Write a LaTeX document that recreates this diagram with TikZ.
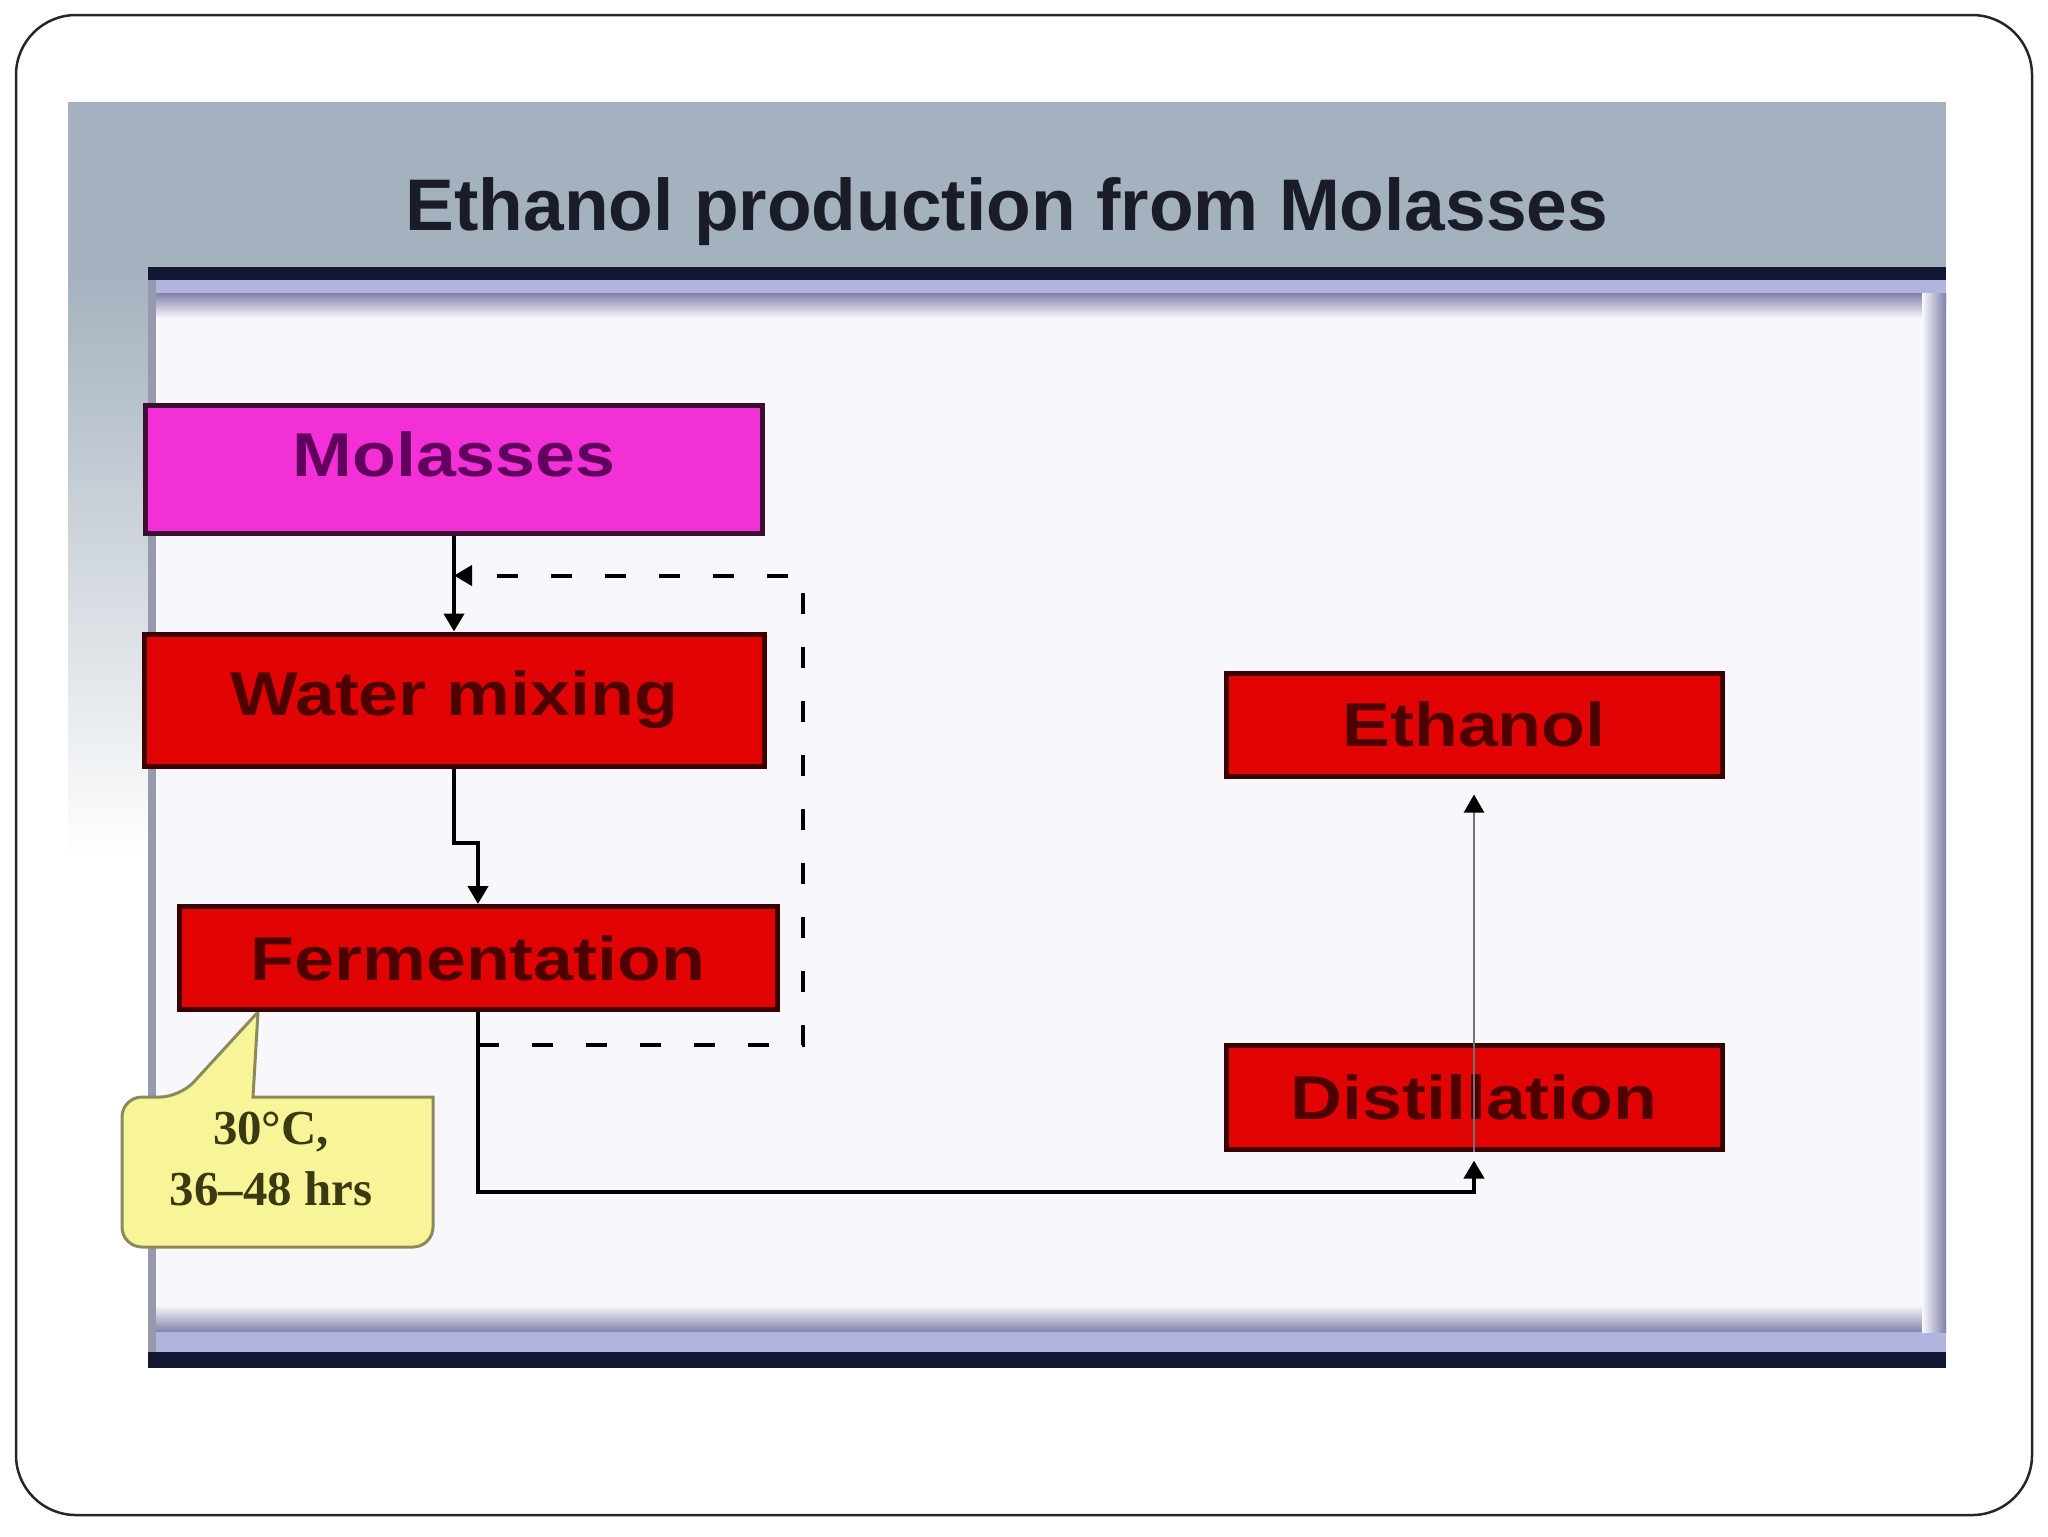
\documentclass[tikz,border=0pt]{standalone}
\usepackage{graphicx}
\usepackage{xcolor}
\usepackage{fontspec}
\setmainfont{Liberation Sans}
\newfontfamily\notefont[Ligatures=TeX]{Liberation Serif}
\usepackage{tikz}
\usetikzlibrary{positioning}
\usetikzlibrary{arrows.meta}

\definecolor{slate}{RGB}{164,177,190}
\definecolor{navy}{RGB}{18,22,48}
\definecolor{lilac}{RGB}{176,180,222}
\definecolor{lilacdark}{RGB}{128,130,170}
\definecolor{paper}{RGB}{248,248,252}
\definecolor{rimgray}{RGB}{150,154,172}
\definecolor{pinkfill}{RGB}{243,48,214}
\definecolor{pinkrim}{RGB}{60,14,52}
\definecolor{pinktext}{RGB}{98,0,96}
\definecolor{redfill}{RGB}{226,4,4}
\definecolor{redrim}{RGB}{60,0,0}
\definecolor{redtext}{RGB}{78,0,0}
\definecolor{notefill}{RGB}{248,244,152}
\definecolor{noterim}{RGB}{140,138,92}
\definecolor{notetext}{RGB}{58,58,18}
\definecolor{titletext}{RGB}{26,28,40}

\newcommand{\wide}[1]{\scalebox{1.16}[1]{#1}}

\begin{document}
\begin{tikzpicture}[x=0.1mm, y=-0.1mm]

        \def\d{26.4mm}

        % boxes of the flow sheet and their arrows
        \tikzset{
            stage/.style={draw=redrim, fill=redfill, text=redtext,
                line width=0.5mm, inner sep=0pt,
                font=\fontsize{17.6}{20}\selectfont\bfseries},
            link/.style={line width=0.4mm,
                -{Triangle[width=2mm,length=1.8mm]}},
            recycle/.style={link, dash pattern=on 2.1mm off 3.3mm}
        }

        \useasboundingbox (0,0) rectangle (2048,1536);

        % slide frame
        \draw[line width=0.25mm, draw=black!85, rounded corners=6mm]
            (16,15) rectangle (2032,1515);

        % the pasted screenshot behind the diagram
        \begin{scope}
            \fill[slate] (68,102) rectangle (1946,268);
            \shade[top color=slate, bottom color=white]
                (68,268) rectangle (150,860);
            \fill[navy] (148,267) rectangle (1946,280);
            \fill[lilac] (150,280) rectangle (1946,293);
            \shade[top color=lilacdark, bottom color=paper]
                (150,293) rectangle (1946,318);
            \fill[paper] (150,318) rectangle (1946,1305);
            \shade[top color=paper, bottom color=lilacdark]
                (150,1305) rectangle (1946,1332);
            \fill[lilac] (150,1332) rectangle (1946,1352);
            \fill[navy] (148,1352) rectangle (1946,1368);
            \fill[rimgray] (148,280) rectangle (156,1352);
            \shade[left color=paper, right color=lilacdark]
                (1922,293) rectangle (1946,1332);
        \end{scope}

        \node[anchor=base, text=titletext,
            font=\fontsize{20.8}{24}\selectfont\bfseries] (ttl)
            at (1007,230) {Ethanol production from Molasses};

        % callout for the fermentation conditions
        \draw[line width=0.3mm, draw=noterim, fill=notefill]
            (300,1247) [rounded corners=2mm] -- (122,1247) -- (122,1097)
            -- (180,1097) [sharp corners] -- (258,1012) -- (253,1097)
            -- (433,1097) [rounded corners=2mm] -- (433,1247) -- cycle;
        \node[text=notetext, align=center,
            font=\notefont\fontsize{13.9}{17.6}\selectfont\bfseries] (cond)
            at (271,1159) {30°C,\\36–48 hrs};

        \node[stage, fill=pinkfill, draw=pinkrim, text=pinktext,
            text depth=3mm, minimum width=61.7mm, minimum height=12.8mm] (mol)
            at (454,469) {\wide{Molasses}};
        \node[stage, minimum width=62mm, minimum height=13.2mm] (wat)
            at (454,700) {\wide{Water mixing}};
        \node[stage, minimum width=59.8mm, minimum height=10.3mm] (fer)
            at (478,958) {\wide{Fermentation}};
        \node[stage, minimum width=49.6mm, minimum height=10.4mm] (dis)
            at (1474,1097) {\wide{Distillation}};
        \node[stage, minimum width=49.6mm, minimum height=10.3mm]
            (eth) [above=\d of dis] {\wide{Ethanol}};

        \path (fer.south) ++(0,33) coordinate (back);
        \path (mol.south) ++(0,40) coordinate (feed);

        \begin{scope}[link]
            \draw (mol.south) -- (wat.north);
            \draw (wat.south) -- ++(0,74) -| (fer.north);
            \draw[shorten >=0.9mm] (fer.south) -- ++(0,180) -| (dis.south);
            \draw[recycle] (back) -- ++(325,0) |- (feed);
        \end{scope}

        \draw[line width=0.25mm, draw=black!55, shorten >=1.6mm,
            -{Triangle[width=2mm,length=1.8mm,color=black]}]
            (dis.south) -- (eth.south);

\end{tikzpicture}
\end{document}
